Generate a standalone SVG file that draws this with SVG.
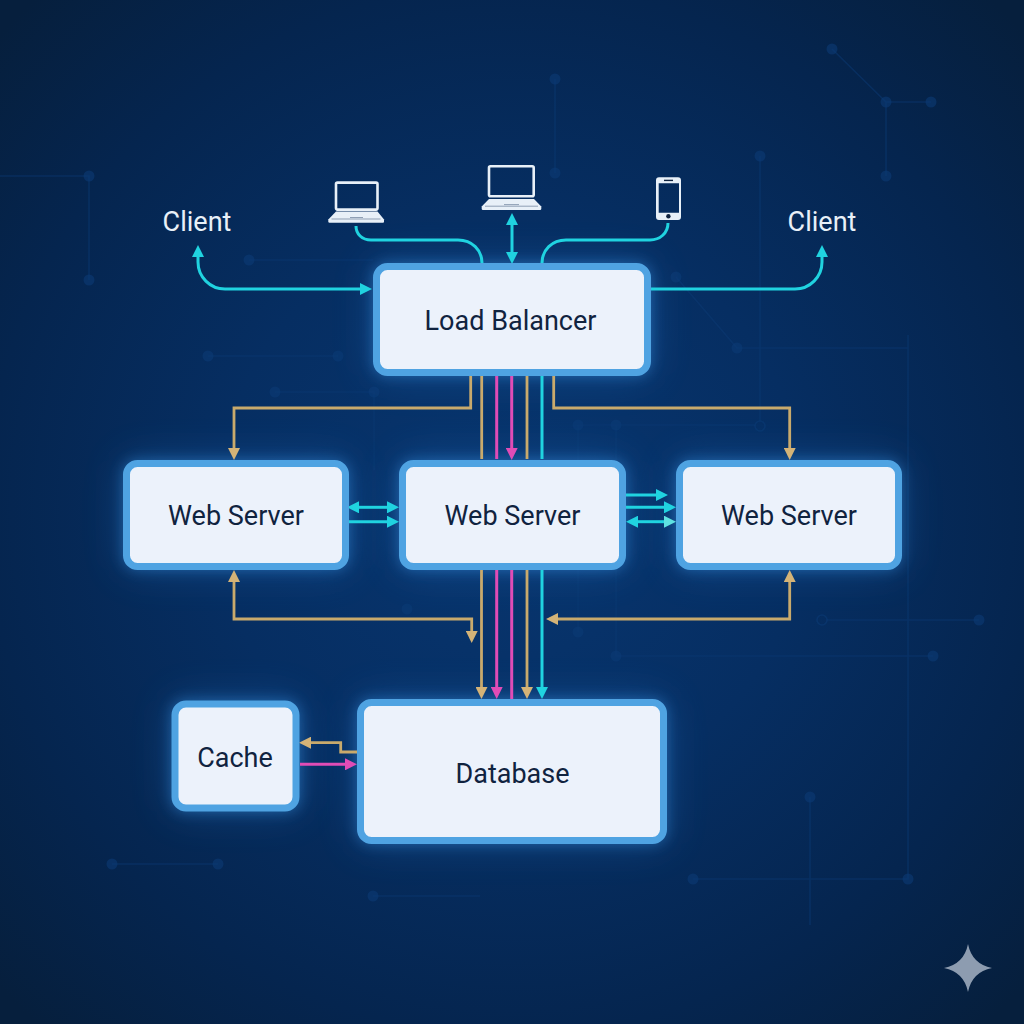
<svg xmlns="http://www.w3.org/2000/svg" width="1024" height="1024" viewBox="0 0 1024 1024">
<style>
.box{fill:#ecf2fb;stroke:#4fa3e2;stroke-width:7}
.halo{fill:#3d9bf0;opacity:.42;filter:url(#glow)}
.halo2{fill:#2a7fd0;opacity:.3;filter:url(#glow2)}
.lbl{font-family:Roboto,"Liberation Sans",sans-serif;font-size:27px;fill:#10233f;text-anchor:middle}
.cli{font-family:Roboto,"Liberation Sans",sans-serif;font-size:27px;fill:#e8f0f8;text-anchor:middle}
.c,.t,.m,.cl{fill:none;stroke-width:3}
.c{stroke:#20d3e0;marker-end:url(#ac)}
.t{stroke:#c9aa6c;stroke-width:2.8;marker-end:url(#at)}
.m{stroke:#e04cb6;marker-end:url(#am)}
.n{marker-end:none}
.cl{stroke:#20d3e0}
.bg path{fill:none;stroke:#0b3a74;stroke-width:1.6;opacity:.5}
.bg circle{fill:#0b3a74;opacity:.6}
.bg circle.ring{fill:none;stroke:#0b3a74;stroke-width:1.6}
.ic{fill:#e8f0f8}
.ico{fill:none;stroke:#e8f0f8;stroke-width:2.6}
</style>
<defs>
<radialGradient id="bg" cx="512" cy="510" r="700" gradientUnits="userSpaceOnUse">
<stop offset="0" stop-color="#083670"/>
<stop offset=".42" stop-color="#062e62"/>
<stop offset=".75" stop-color="#05254f"/>
<stop offset="1" stop-color="#061f3d"/>
</radialGradient>
<filter id="glow" x="-30%" y="-40%" width="160%" height="180%"><feGaussianBlur stdDeviation="7"/></filter>
<filter id="glow2" x="-40%" y="-60%" width="180%" height="220%"><feGaussianBlur stdDeviation="20"/></filter>
<marker id="ac" markerUnits="userSpaceOnUse" markerWidth="12" markerHeight="12" viewBox="0 0 12 12" refX="1" refY="6" orient="auto-start-reverse"><path d="M0 0L12 6L0 12z" fill="#20d3e0"/></marker>
<marker id="al" markerUnits="userSpaceOnUse" markerWidth="12" markerHeight="12" viewBox="0 0 12 12" refX="1" refY="6" orient="auto-start-reverse"><path d="M0 0L12 6L0 12z" fill="#5fe2e2"/></marker>
<marker id="at" markerUnits="userSpaceOnUse" markerWidth="12" markerHeight="12" viewBox="0 0 12 12" refX="1" refY="6" orient="auto-start-reverse"><path d="M0 0L12 6L0 12z" fill="#d4b377"/></marker>
<marker id="am" markerUnits="userSpaceOnUse" markerWidth="12" markerHeight="12" viewBox="0 0 12 12" refX="1" refY="6" orient="auto-start-reverse"><path d="M0 0L12 6L0 12z" fill="#e04cb6"/></marker>
</defs>
<rect width="1024" height="1024" fill="url(#bg)"/>
<g class="bg">
<path d="M0 176H89V280M249 260H373M208 356H338M275 392H374V470M578 425H755M578 425V632M616 425V656H933M827 620H979M908 335V879H693M810 797V925M555 79V173M832 49L886 102H931M886 102V176M760 156V421M676 277L737 348H908M112 864H218M373 896H480"/>
<circle cx="89" cy="176" r="5.5"/><circle cx="89" cy="280" r="5.5"/><circle cx="249" cy="260" r="5.5"/><circle cx="208" cy="356" r="5.5"/><circle cx="338" cy="356" r="5.5"/><circle cx="275" cy="392" r="5.5"/><circle cx="374" cy="392" r="5.5"/><circle cx="578" cy="425" r="5.5"/><circle cx="616" cy="425" r="5.5"/><circle class="ring" cx="760" cy="426" r="5"/><circle cx="578" cy="632" r="5.5"/><circle cx="616" cy="656" r="5.5"/><circle cx="933" cy="656" r="5.5"/><circle class="ring" cx="822" cy="620" r="5"/><circle cx="979" cy="620" r="5.5"/><circle cx="908" cy="879" r="5.5"/><circle cx="693" cy="879" r="5.5"/><circle cx="810" cy="797" r="5.5"/><circle cx="555" cy="79" r="5.5"/><circle cx="555" cy="173" r="5.5"/><circle cx="832" cy="49" r="5.5"/><circle cx="886" cy="102" r="5.5"/><circle cx="931" cy="102" r="5.5"/><circle cx="886" cy="176" r="5.5"/><circle cx="760" cy="156" r="5.5"/><circle cx="676" cy="277" r="5.5"/><circle cx="737" cy="348" r="5.5"/><circle cx="112" cy="864" r="5.5"/><circle cx="218" cy="864" r="5.5"/><circle cx="373" cy="896" r="5.5"/><circle cx="407" cy="609" r="5.5"/>
</g>
<g id="halos">
<rect class="halo2" x="373" y="263" width="278" height="113" rx="14"/>
<rect class="halo2" x="123" y="460" width="226" height="110" rx="14"/>
<rect class="halo2" x="399" y="460" width="227" height="110" rx="14"/>
<rect class="halo2" x="676" y="460" width="226" height="110" rx="14"/>
<rect class="halo2" x="171" y="700" width="129" height="112" rx="14"/>
<rect class="halo2" x="357" y="699" width="310" height="145" rx="14"/>
<rect class="halo" x="373" y="263" width="278" height="113" rx="14"/>
<rect class="halo" x="123" y="460" width="226" height="110" rx="14"/>
<rect class="halo" x="399" y="460" width="227" height="110" rx="14"/>
<rect class="halo" x="676" y="460" width="226" height="110" rx="14"/>
<rect class="halo" x="171" y="700" width="129" height="112" rx="14"/>
<rect class="halo" x="357" y="699" width="310" height="145" rx="14"/>
</g>
<g id="connectors">
<path class="c" d="M361 289H225A27 27 0 0 1 198 262V256" style="marker-start:url(#ac)"/>
<path class="c" d="M651 289H795A27 27 0 0 0 822 262V256"/>
<path class="cl" d="M356 226C356 234 362 240 371 240H458C472 240 482 250 482 263"/>
<path class="cl" d="M668 223C668 233 660 240 650 240H566C552 240 542 250 542 263"/>
<path class="c" d="M512 224V253" style="marker-start:url(#ac)"/>
<path class="t" d="M470.7 376V408H234V449"/>
<path class="t" d="M553.7 376V408H789.7V449"/>
<path class="t n" d="M481.7 376V459"/>
<path class="m n" d="M496.7 376V459"/>
<path class="m" d="M511.7 376V449"/>
<path class="t n" d="M527 376V459"/>
<path class="cl" d="M542 376V459"/>
<path class="c" d="M358 507.3H388" style="marker-start:url(#ac)"/>
<path class="c" d="M349 521.7H388"/>
<path class="c" d="M626 495H657"/>
<path class="c" d="M626 507.3H665"/>
<path class="cl" d="M637 521.7H665" style="marker-start:url(#ac);marker-end:url(#al)"/>
<path class="t" d="M234 581V619H471.7V632" style="marker-start:url(#at)"/>
<path class="t" d="M789.7 581V619H557" style="marker-start:url(#at)"/>
<path class="t" d="M481.5 570V688"/>
<path class="m" d="M496.7 570V688"/>
<path class="m n" d="M511.7 570V699"/>
<path class="t" d="M527 570V688"/>
<path class="c" d="M542 570V688"/>
<path class="t" d="M358 752H340.7V742.7H310"/>
<path class="m" d="M300 764.3H346"/>
</g>
<g id="load-balancer"><rect class="box" x="376.5" y="266.5" width="271" height="106" rx="11"/><text class="lbl" x="510.5" y="329.5">Load Balancer</text></g>
<g id="web-server-1"><rect class="box" x="126.5" y="463.5" width="219" height="103" rx="11"/><text class="lbl" x="236" y="525">Web Server</text></g>
<g id="web-server-2"><rect class="box" x="402.5" y="463.5" width="220" height="103" rx="11"/><text class="lbl" x="512.5" y="525">Web Server</text></g>
<g id="web-server-3"><rect class="box" x="679.5" y="463.5" width="219" height="103" rx="11"/><text class="lbl" x="789" y="525">Web Server</text></g>
<g id="cache"><rect class="box" x="175" y="704" width="121" height="104" rx="11"/><text class="lbl" x="235" y="766.5">Cache</text></g>
<g id="database"><rect class="box" x="360.5" y="702.5" width="303" height="138" rx="11"/><text class="lbl" x="512.5" y="782.5">Database</text></g>
<g id="client-left"><text class="cli" x="197" y="230.5">Client</text></g>
<g id="client-right"><text class="cli" x="822" y="230.5">Client</text></g>
<g id="laptop-left">
<rect class="ico" x="336" y="182.6" width="41.5" height="27" rx="1.5"/>
<path class="ic" d="M336 211.5H377.5L384 219.5V221.5Q384 222.7 383 222.7H329.5Q328.3 222.7 328.3 221.5V219.5Z"/>
<path d="M331.5 219H380.5M350 217.5H363" stroke="#8f9fb4" stroke-width="1" fill="none"/>
</g>
<g id="laptop-center">
<rect class="ico" x="489" y="166.3" width="44.7" height="30" rx="1.5"/>
<path class="ic" d="M489 199H534L541.3 206.5V208.8Q541.3 210 540 210H483Q481.7 210 481.7 208.8V206.5Z"/>
<path d="M485 206.2H538M504 204.6H519" stroke="#8f9fb4" stroke-width="1" fill="none"/>
</g>
<g id="phone">
<path class="ic" fill-rule="evenodd" d="M659 177.3H678Q681 177.3 681 180.3V217Q681 220 678 220H659Q656 220 656 217V180.3Q656 177.3 659 177.3ZM658.7 183.3V212.7H679V183.3Z"/>
<path d="M664 180.4H673" stroke="#10233f" stroke-width="1.4"/>
<circle cx="668.4" cy="216.2" r="2.2" fill="#10233f"/>
</g>
<path id="sparkle" d="M968 944Q972 964 992 968Q972 972 968 992Q964 972 944 968Q964 964 968 944Z" fill="#8d9cb0"/>
</svg>
